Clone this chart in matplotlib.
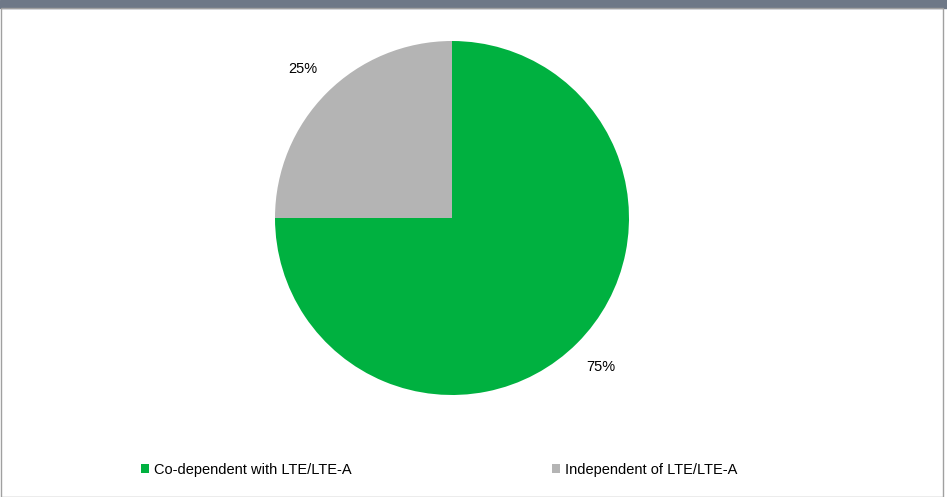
import matplotlib.pyplot as plt
from matplotlib.patches import Rectangle

labels = ['Co-dependent with LTE/LTE-A', 'Independent of LTE/LTE-A']
shares = [75, 25]
colors = ['#00B140', '#B4B4B4']

plt.rcParams['font.family'] = ['Liberation Sans', 'DejaVu Sans']

W, H = 947, 497
fig = plt.figure(figsize=(W / 100, H / 100), dpi=100)

# header strip and frame
fig.patches.append(Rectangle((0, 1 - 8 / H), 1, 8 / H, transform=fig.transFigure,
                             color='#6E7887', zorder=0))
fig.patches.append(Rectangle((1 / W, 0), 942 / W, 1 - 8 / H, transform=fig.transFigure,
                             fill=False, edgecolor='#A0A0A0', lw=1, zorder=0))

cx, cy, r = 452, 218, 177
ax = fig.add_axes([(cx - r) / W, (H - cy - r) / H, 2 * r / W, 2 * r / H])
wedges, _, autotexts = ax.pie(shares, colors=colors, startangle=90, counterclock=False,
                              autopct='%d%%', pctdistance=1.19,
                              textprops={'fontsize': 10.5, 'color': 'black'})
ax.set_xlim(-1, 1)
ax.set_ylim(-1, 1)
ax.set_aspect('equal')

fig.legend(wedges, labels, loc='center left', bbox_to_anchor=(128 / W, 1 - 470 / H),
           ncol=2, frameon=False, fontsize=10.5, handlelength=0.55, handleheight=0.55,
           handletextpad=0.3, columnspacing=13.8)

fig.savefig('out.png', dpi=100)
